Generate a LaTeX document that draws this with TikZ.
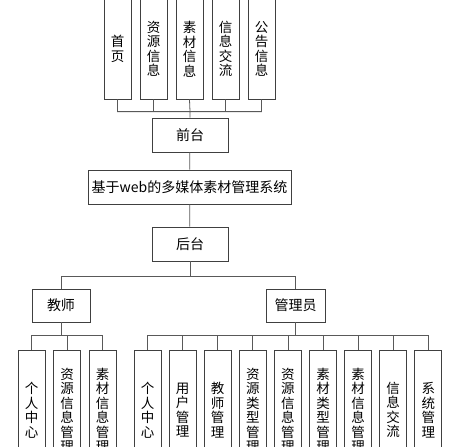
\documentclass[tikz,border=0pt]{standalone}
\usepackage{fontspec}
\newfontfamily\cjk{Noto Sans CJK SC}
\begin{document}
\begin{tikzpicture}[x=1pt,y=-1pt,
  box/.style={draw=black!75,line width=0.8pt,fill=white,inner sep=0pt,align=center,
    font=\cjk\fontsize{13.5}{14.5}\selectfont},
  hbox/.style={box,minimum width=76pt,minimum height=34pt,font=\cjk\fontsize{14}{16}\selectfont},
  vbox/.style={box,minimum width=27pt,minimum height=100pt},
  lbox/.style={box,minimum width=27pt,minimum height=120pt},
  link/.style={draw=black!65,line width=0.8pt}]
\useasboundingbox (0,0) rectangle (459,447);
\clip (0,0) rectangle (459,447);
%front pages
\node[vbox] (home) at (117.5,49) {首\\页};
\node[vbox] (res) at (153.5,49) {资\\源\\信\\息};
\node[vbox] (mat) at (189.5,49) {素\\材\\信\\息};
\node[vbox] (msg) at (225.5,49) {信\\息\\交\\流};
\node[vbox] (note) at (261.5,49) {公\\告\\信\\息};
%system
\node[hbox] (front) at (190,135) {前台};
\node[hbox,minimum width=203pt] (sys) at (189.5,187) {基于web的多媒体素材管理系统};
\node[hbox] (back) at (190,244) {后台};
\node[hbox,minimum width=58pt,minimum height=33pt] (teacher) at (61,305.5) {教师};
\node[hbox,minimum width=59pt,minimum height=33pt] (admin) at (295.5,305.5) {管理员};
%teacher pages
\node[lbox] (t1) at (31.5,410) {个\\人\\中\\心};
\node[lbox] (t2) at (67,410) {资\\源\\信\\息\\管\\理};
\node[lbox] (t3) at (102.5,410) {素\\材\\信\\息\\管\\理};
%admin pages
\node[lbox] (a1) at (147.5,410) {个\\人\\中\\心};
\node[lbox] (a2) at (182.6,410) {用\\户\\管\\理};
\node[lbox] (a3) at (217.7,410) {教\\师\\管\\理};
\node[lbox] (a4) at (252.8,410) {资\\源\\类\\型\\管\\理};
\node[lbox] (a5) at (287.9,410) {资\\源\\信\\息\\管\\理};
\node[lbox] (a6) at (323,410) {素\\材\\类\\型\\管\\理};
\node[lbox] (a7) at (358.1,410) {素\\材\\信\\息\\管\\理};
\node[lbox] (a8) at (393.2,410) {信\\息\\交\\流};
\node[lbox] (a9) at (428.3,410) {系\\统\\管\\理};
%links
\path (front.north) ++(0,-6) coordinate (fbus);
\draw[link] (home.south) |- (fbus) (res.south) |- (fbus) (mat.south) -- (fbus)
  (note.south) |- (fbus) (msg.south) |- (fbus) (fbus) -- (front.north);
\draw[link] (front) -- (sys) (sys) -- (back);
\path (back.south) ++(0,15) coordinate (bbus);
\draw[link] (back.south) -- (bbus) (bbus) -| (teacher.north) (bbus) -| (admin.north);
\path (teacher.south) ++(0,13) coordinate (tbus);
\draw[link] (teacher.south) -- (tbus) (tbus) -| (t1.north) (tbus) -| (t2.north)
  (tbus) -| (t3.north);
\path (admin.south) ++(0,13) coordinate (abus);
\draw[link] (admin.south) -- (abus) (abus) -| (a1.north) (abus) -| (a2.north)
  (abus) -| (a3.north) (abus) -| (a4.north) (abus) -| (a5.north) (abus) -| (a6.north)
  (abus) -| (a7.north) (abus) -| (a8.north) (abus) -| (a9.north);
\end{tikzpicture}
\end{document}
